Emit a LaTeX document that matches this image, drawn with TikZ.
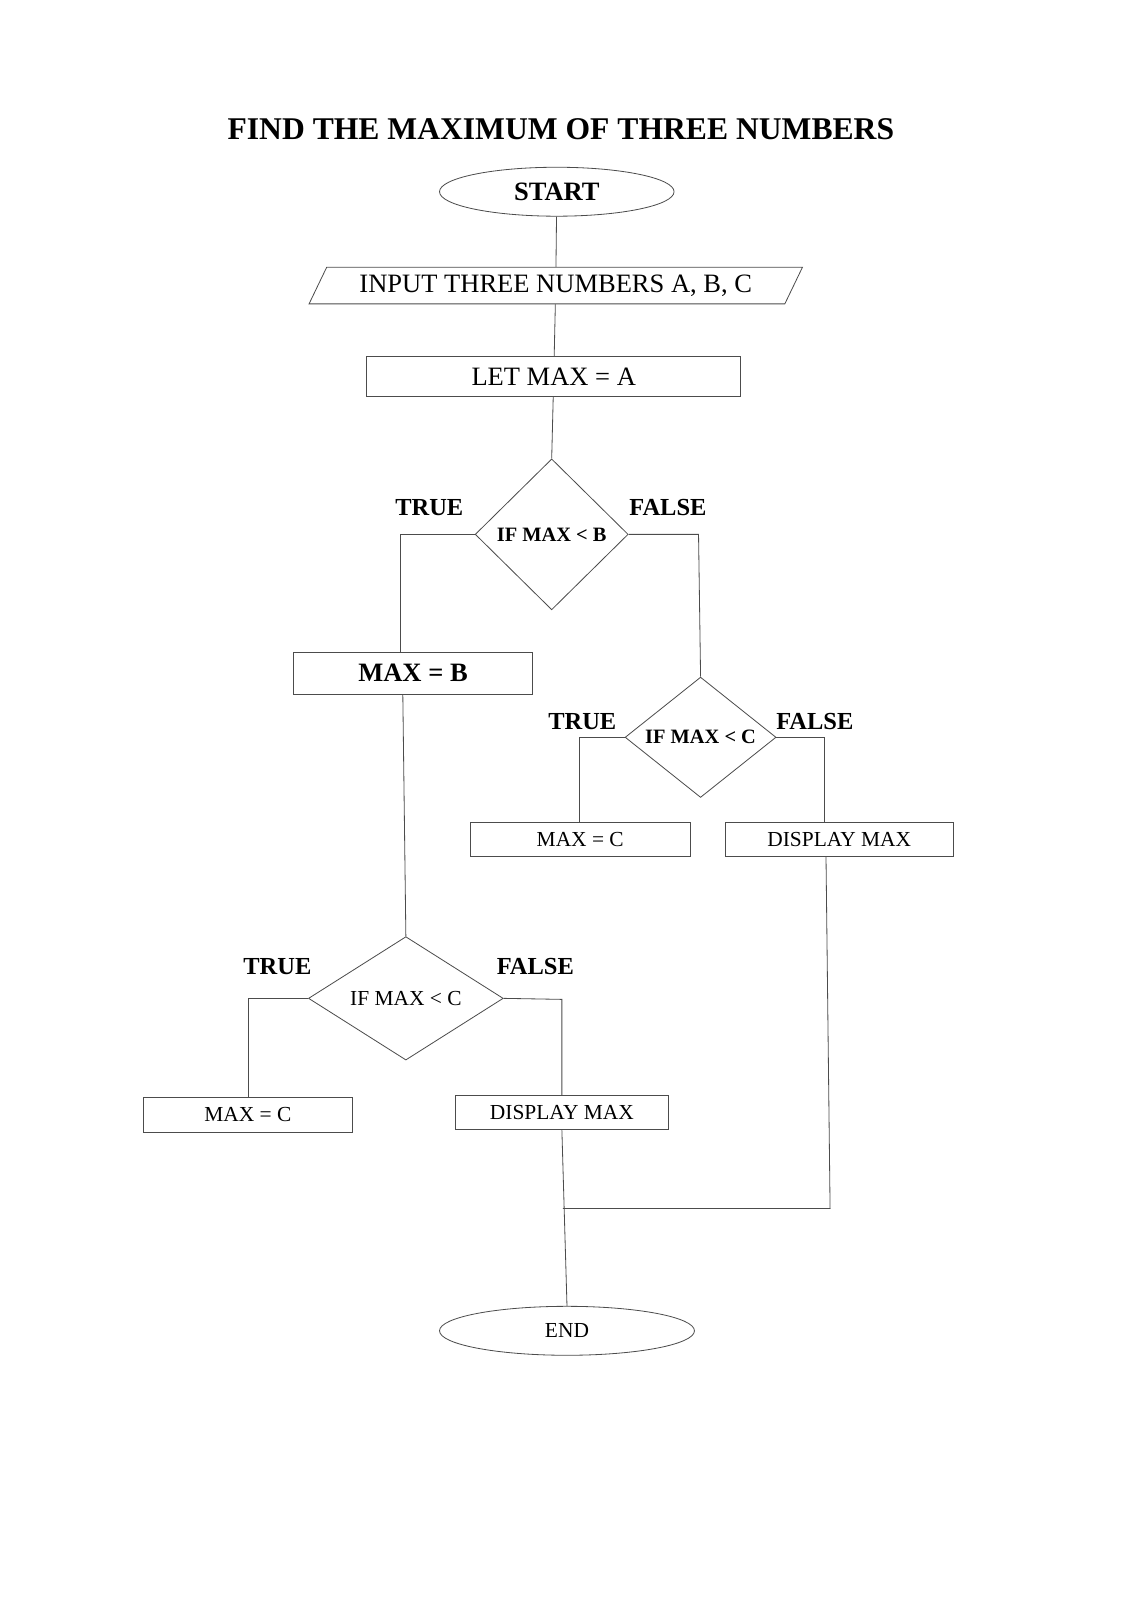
\documentclass[tikz,border=0pt]{standalone}
\usepackage{fontspec}
\setmainfont{Liberation Serif}
\usetikzlibrary{shapes.geometric}
\begin{document}
\begin{tikzpicture}[x=1pt,y=-1pt,line width=0.8pt,draw=black!70,
  box/.style={draw,rectangle,inner sep=0},
  dia/.style={draw,diamond,inner sep=0},
  ell/.style={draw,ellipse,inner sep=0},
  lbl/.style={font=\fontsize{24}{26}\selectfont\bfseries},
  big/.style={font=\fontsize{26}{28}\selectfont},
  bigb/.style={font=\fontsize{26}{28}\selectfont\bfseries},
  sml/.style={font=\fontsize{21}{23}\selectfont},
  smlb/.style={font=\fontsize{20}{22}\selectfont\bfseries}]
\useasboundingbox (0,0) rectangle (1109,1569);
\node[font=\fontsize{31}{33}\selectfont\bfseries] (title) at (550,127) {FIND THE MAXIMUM OF THREE NUMBERS};
\node[ell,minimum width=230,minimum height=48,bigb] (start) at (546,188) {START};
\node[draw,trapezium,trapezium left angle=55,trapezium right angle=125,trapezium stretches=true,minimum width=484,minimum height=36,inner sep=0,big] (in) at (545,280) {INPUT THREE NUMBERS A, B, C};
\node[box,minimum width=367,minimum height=39,big] (let) at (543,369) {LET MAX = A};
\node[dia,minimum width=150,minimum height=148] (d1) at (541,524) {};
\node[smlb] (t1) at (541,524) {IF MAX < B};
\node[lbl] (tr1) at (421,498) {TRUE};
\node[lbl] (fa1) at (655,498) {FALSE};
\node[box,minimum width=235,minimum height=41,bigb] (mb) at (405,660) {MAX = B};
\node[dia,minimum width=148,minimum height=118] (d2) at (687,723) {};
\node[smlb] (t2) at (687,723) {IF MAX < C};
\node[lbl] (tr2) at (571,708) {TRUE};
\node[lbl] (fa2) at (799,708) {FALSE};
\node[box,minimum width=216,minimum height=34,sml] (mc1) at (569,823) {MAX = C};
\node[box,minimum width=224,minimum height=34,sml] (dm1) at (823,823) {DISPLAY MAX};
\node[dia,minimum width=191,minimum height=121] (d3) at (398,979) {};
\node[sml] (t3) at (398,979) {IF MAX < C};
\node[lbl] (tr3) at (272,948) {TRUE};
\node[lbl] (fa3) at (525,948) {FALSE};
\node[box,minimum width=205,minimum height=34,sml] (mc2) at (243,1093) {MAX = C};
\node[box,minimum width=208,minimum height=34,sml] (dm2) at (551,1091) {DISPLAY MAX};
\node[ell,minimum width=250,minimum height=48,sml] (end) at (556,1305) {END};
\coordinate (j) at (552,1185);
\draw (start) -- (in);
\draw (in) -- (let);
\draw (let) -- (d1.north);
\draw (d1.west) -- (393,524) -- (mb.north -| 393,0);
\draw (d1.east) -- (685,524) -- (d2.north);
\draw (d2.west) -- (568,723) -- (mc1.north -| 568,0);
\draw (d2.east) -- (808,723) -- (dm1.north -| 808,0);
\draw (dm1.south -| 810,0) -- (814,1185) -- (j);
\draw (mb.south -| 395,0) -- (d3.north);
\draw (d3.west) -- (244,979) -- (mc2.north -| 244,0);
\draw (d3.east) -- (551,980) -- (dm2.north);
\draw (dm2.south) -- (end.north);
\end{tikzpicture}
\end{document}
